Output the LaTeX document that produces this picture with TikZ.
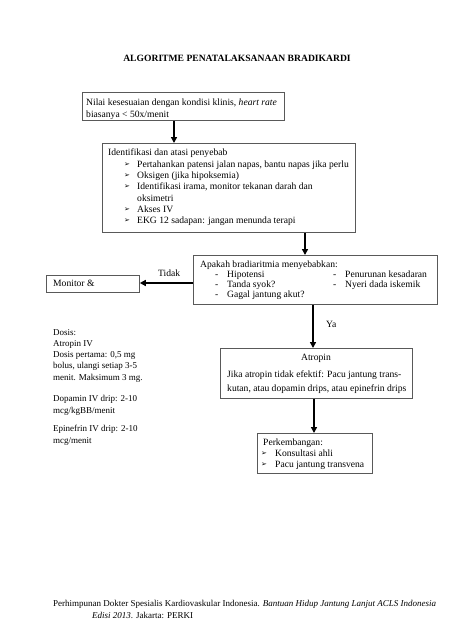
\documentclass[tikz,border=0pt]{standalone}
\usepackage{fontspec}
\setmainfont{Liberation Serif}
\newfontfamily\symfont{DejaVu Sans}
\usetikzlibrary{arrows.meta}
\tikzset{
  box/.style={draw=black!65, line width=0.8pt, rectangle, inner sep=0pt, anchor=north west},
  txt/.style={anchor=base west, inner sep=0pt, font=\fontsize{9.6}{11}\selectfont},
  sml/.style={anchor=base west, inner sep=0pt, font=\fontsize{9}{11}\selectfont},
  arr/.style={line width=1.8pt, -{Triangle[length=6pt,width=6pt]}},
  bul/.style={anchor=base west, inner sep=0pt, font=\symfont\fontsize{7}{8}\selectfont}
}
\begin{document}
\begin{tikzpicture}[x=1pt,y=-1pt]
\useasboundingbox[fill=white] (0,0) rectangle (474,632);
% title
\node[anchor=base, inner sep=0pt, font=\fontsize{9.6}{11}\selectfont\bfseries] (title) at (237,61) {ALGORITME PENATALAKSANAAN BRADIKARDI};
% box 1
\node[box, minimum width=202pt, minimum height=28pt] (b1) at (82,92) {};
\node[txt] (b1a) at (86,105) {Nilai kesesuaian dengan kondisi klinis, \textit{heart rate}};
\node[txt] (b1b) at (86,117) {biasanya < 50x/menit};
% box 2
\node[box, minimum width=253pt, minimum height=89pt] (b2) at (102,143) {};
\node[txt] (b2a) at (108,155) {Identifikasi dan atasi penyebab};
\node[bul] (u1) at (124,166) {➢};
\node[txt] (b2b) at (137,167) {Pertahankan patensi jalan napas, bantu napas jika perlu};
\node[bul] (u2) at (124,177) {➢};
\node[txt] (b2c) at (137,178) {Oksigen (jika hipoksemia)};
\node[bul] (u3) at (124,188) {➢};
\node[txt] (b2d) at (137,189) {Identifikasi irama, monitor tekanan darah dan};
\node[txt] (b2e) at (137,201) {oksimetri};
\node[bul] (u4) at (124,211) {➢};
\node[txt] (b2f) at (137,212) {Akses IV};
\node[bul] (u5) at (124,222) {➢};
\node[txt] (b2g) at (137,223) {EKG 12 sadapan: jangan menunda terapi};
% box 3
\node[box, minimum width=244pt, minimum height=49pt] (b3) at (193,255) {};
\node[txt] (b3a) at (200,267) {Apakah bradiaritmia menyebabkan:};
\node[txt] (d1) at (215,277) {-};
\node[txt] (b3b) at (227,277) {Hipotensi};
\node[txt] (d2) at (215,287) {-};
\node[txt] (b3c) at (227,287) {Tanda syok?};
\node[txt] (d3) at (215,297) {-};
\node[txt] (b3d) at (227,297) {Gagal jantung akut?};
\node[txt] (d4) at (333,277) {-};
\node[txt] (b3e) at (345,277) {Penurunan kesadaran};
\node[txt] (d5) at (333,287) {-};
\node[txt] (b3f) at (345,287) {Nyeri dada iskemik};
% monitor box
\node[box, minimum width=93pt, minimum height=17pt] (mon) at (46,275) {};
\node[txt] (mont) at (53,286) {Monitor \&};
\node[txt] (tidak) at (158,276) {Tidak};
% atropin box
\node[box, minimum width=192pt, minimum height=50pt] (b4) at (220,348) {};
\node[anchor=base, inner sep=0pt, font=\fontsize{9.6}{11}\selectfont] (b4a) at (316,360) {Atropin};
\node[txt] (b4b) at (227,377) {Jika atropin tidak efektif: Pacu jantung trans-};
\node[txt] (b4c) at (227,391) {kutan, atau dopamin drips, atau epinefrin drips};
\node[txt] (ya) at (326,327) {Ya};
% perkembangan box
\node[box, minimum width=115pt, minimum height=40pt] (b5) at (257,433) {};
\node[txt] (b5a) at (263,445) {Perkembangan:};
\node[bul] (u6) at (261,455) {➢};
\node[txt] (b5b) at (275,456) {Konsultasi ahli};
\node[bul] (u7) at (261,466) {➢};
\node[txt] (b5c) at (275,467) {Pacu jantung transvena};
% dosis
\node[sml] (ds1) at (53,335) {Dosis:};
\node[sml] (ds2) at (53,346) {Atropin IV};
\node[sml] (ds3) at (53,357) {Dosis pertama: 0,5 mg};
\node[sml] (ds4) at (53,368) {bolus, ulangi setiap 3-5};
\node[sml] (ds5) at (53,380) {menit. Maksimum 3 mg.};
\node[sml] (ds6) at (53,401) {Dopamin IV drip: 2-10};
\node[sml] (ds7) at (53,413) {mcg/kgBB/menit};
\node[sml] (ds8) at (53,431) {Epinefrin IV drip: 2-10};
\node[sml] (ds9) at (53,443) {mcg/menit};
% footer
\node[sml] (f1) at (53,606) {Perhimpunan Dokter Spesialis Kardiovaskular Indonesia. \textit{Bantuan Hidup Jantung Lanjut ACLS Indonesia}};
\node[sml] (f2) at (92,618) {\textit{Edisi 2013}. Jakarta: PERKI};
% arrows
\draw[arr] (b1.south -| 174,0) -- (b2.north -| 174,0);
\draw[arr] (b2.south -| 305,0) -- (b3.north -| 305,0);
\draw[arr] (b3.west |- 0,283) -- (mon.east |- 0,283);
\draw[arr] (b3.south -| 313,0) -- (b4.north -| 313,0);
\draw[arr] (b4.south -| 314,0) -- (b5.north -| 314,0);
\end{tikzpicture}
\end{document}
